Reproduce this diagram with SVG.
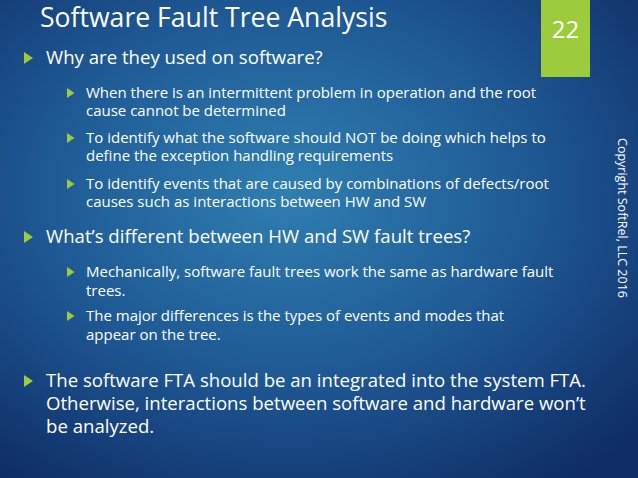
<svg xmlns="http://www.w3.org/2000/svg" width="638" height="478" viewBox="0 0 638 478">
<defs>
<radialGradient id="bg" cx="0.45" cy="0.4" r="0.75">
<stop offset="0" stop-color="#2f7fb0"/>
<stop offset="0.5" stop-color="#1f5a95"/>
<stop offset="1" stop-color="#0f2c66"/>
</radialGradient>
<polygon id="tri" points="0,-6 9,0 0,6" fill="#9ccb3b"/>
<polygon id="tri2" points="0,-5 7.5,0 0,5" fill="#9ccb3b"/>
</defs>
<style>
text{font-family:"Open Sans","Noto Sans","Liberation Sans",sans-serif;fill:#ffffff}
.t{font-size:26.6px}
.l1{font-size:18.6px}
.l2{font-size:15px}
</style>
<rect width="638" height="478" fill="url(#bg)"/>
<g id="pagenum"><rect x="541" y="0" width="49" height="77" fill="#9ccb3b"/><text x="565.5" y="38" font-size="24" text-anchor="middle">22</text></g>
<g id="title"><text class="t" x="40" y="27">Software Fault Tree Analysis</text></g>
<g id="copyright"><text x="618" y="218" font-size="12.5" text-anchor="middle" transform="rotate(90 618 218)">Copyright SoftRel, LLC 2016</text></g>
<g id="body">
<use href="#tri" x="24" y="58"/><text class="l1" x="46" y="64">Why are they used on software?</text>
<use href="#tri2" x="67" y="93"/><text class="l2" x="86" y="98">When there is an intermittent problem in operation and the root</text>
<text class="l2" x="86" y="116">cause cannot be determined</text>
<use href="#tri2" x="67" y="138"/><text class="l2" x="86" y="143">To identify what the software should NOT be doing which helps to</text>
<text class="l2" x="86" y="161">define the exception handling requirements</text>
<use href="#tri2" x="67" y="184"/><text class="l2" x="86" y="189">To identify events that are caused by combinations of defects/root</text>
<text class="l2" x="86" y="207">causes such as interactions between HW and SW</text>
<use href="#tri" x="24" y="237"/><text class="l1" x="46" y="243">What’s different between HW and SW fault trees?</text>
<use href="#tri2" x="67" y="272"/><text class="l2" x="86" y="277">Mechanically, software fault trees work the same as hardware fault</text>
<text class="l2" x="86" y="296">trees.</text>
<use href="#tri2" x="67" y="316"/><text class="l2" x="86" y="321">The major differences is the types of events and modes that</text>
<text class="l2" x="86" y="340">appear on the tree.</text>
<use href="#tri" x="24" y="381"/><text class="l1" x="46" y="387">The software FTA should be an integrated into the system FTA.</text>
<text class="l1" x="46" y="410">Otherwise, interactions between software and hardware won’t</text>
<text class="l1" x="46" y="433">be analyzed.</text>
</g>
</svg>
